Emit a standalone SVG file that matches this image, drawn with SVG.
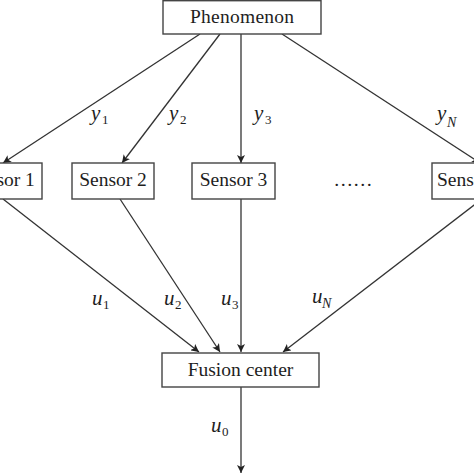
<svg xmlns="http://www.w3.org/2000/svg" width="474" height="474" viewBox="0 0 474 474">
<defs>
<style>
.box{fill:#fff;stroke:#444;stroke-width:1.4}
.lbl{font-family:"Liberation Serif",serif;font-size:19.5px;fill:#1e1e1e;text-anchor:middle}
.v{font-family:"Liberation Serif",serif;font-style:italic;font-size:21px;fill:#1e1e1e}
.s{font-family:"Liberation Serif",serif;font-size:13px;fill:#1e1e1e}
.sn{font-family:"Liberation Serif",serif;font-style:italic;font-size:14px;fill:#1e1e1e}
.c{stroke:#333;stroke-width:1.3;fill:none;marker-end:url(#ah)}
</style>
<marker id="ah" viewBox="0 0 10 10" refX="10" refY="5" markerWidth="8" markerHeight="8" markerUnits="userSpaceOnUse" orient="auto">
<path d="M0,0 L10,5 L0,10 L2.5,5 Z" fill="#222"/>
</marker>
</defs>
<rect width="474" height="474" fill="#fff"/>
<g id="connectors">
<line class="c" x1="200" y1="34" x2="3" y2="163"/>
<line class="c" x1="220" y1="34" x2="122" y2="163"/>
<line class="c" x1="241" y1="34" x2="241" y2="163"/>
<line class="c" x1="282" y1="34" x2="480" y2="163"/>
<line class="c" x1="3" y1="199" x2="199" y2="352"/>
<line class="c" x1="120" y1="199" x2="220" y2="352"/>
<line class="c" x1="241" y1="199" x2="241" y2="352"/>
<line class="c" x1="482" y1="199" x2="283" y2="352"/>
<line class="c" x1="241" y1="387" x2="241" y2="473"/>
</g>
<g id="phenomenon">
<rect class="box" x="163" y="0.7" width="158" height="33.3"/>
<text class="lbl" x="242" y="23" textLength="104">Phenomenon</text>
</g>
<g id="sensor1">
<rect class="box" x="-40" y="163" width="82" height="36"/>
<text class="lbl" x="1" y="186">Sensor 1</text>
</g>
<g id="sensor2">
<rect class="box" x="72" y="163" width="82" height="36"/>
<text class="lbl" x="113" y="186">Sensor 2</text>
</g>
<g id="sensor3">
<rect class="box" x="192" y="163" width="83" height="36"/>
<text class="lbl" x="233.5" y="186">Sensor 3</text>
</g>
<g id="dots">
<text class="lbl" x="353" y="186">……</text>
</g>
<g id="sensorN">
<rect class="box" x="432" y="163" width="82" height="36"/>
<text class="lbl" x="473" y="186">Sensor N</text>
</g>
<g id="fusion">
<rect class="box" x="162" y="353" width="157" height="34"/>
<text class="lbl" x="240.5" y="376">Fusion center</text>
</g>
<g id="labels">
<text class="v" x="91" y="120">y</text><text class="s" x="102" y="124">1</text>
<text class="v" x="169" y="120">y</text><text class="s" x="180" y="124">2</text>
<text class="v" x="254" y="120">y</text><text class="s" x="265" y="124">3</text>
<text class="v" x="437" y="120">y</text><text class="sn" x="447" y="127">N</text>
<text class="v" x="92" y="305">u</text><text class="s" x="103" y="309">1</text>
<text class="v" x="164" y="305">u</text><text class="s" x="175" y="309">2</text>
<text class="v" x="221" y="305">u</text><text class="s" x="232" y="309">3</text>
<text class="v" x="312" y="303">u</text><text class="sn" x="322" y="308">N</text>
<text class="v" x="211" y="432">u</text><text class="s" x="222" y="436">0</text>
</g>
</svg>
